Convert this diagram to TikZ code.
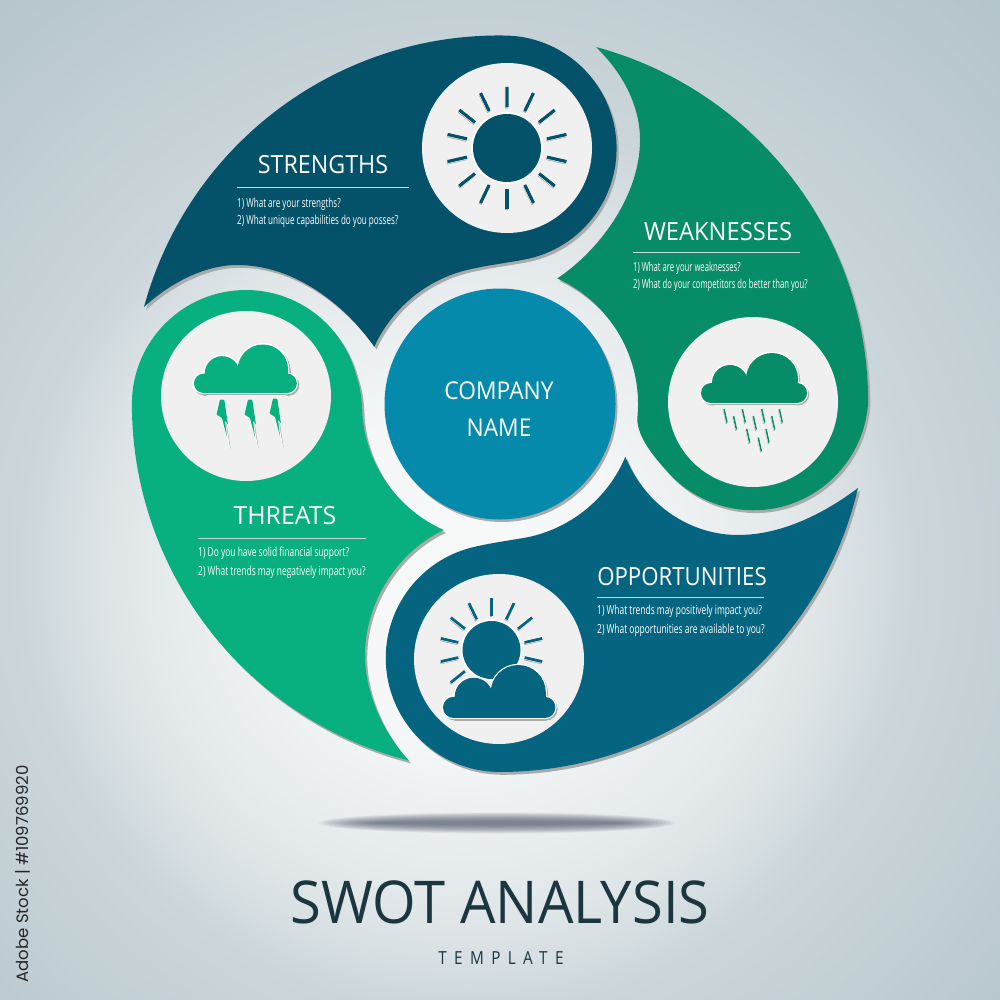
\documentclass[tikz,border=0pt]{standalone}
\usepackage{fontspec}
\setmainfont[FakeStretch=0.93]{Open Sans}
\newfontfamily\narrowfont[FakeStretch=0.66]{Open Sans}
\newfontfamily\titlefont[FakeStretch=0.95]{Open Sans}
\newfontfamily\spacedfont[FakeStretch=0.85,LetterSpace=41]{Open Sans}
\newfontfamily\stockfont{Poppins}
\definecolor{strengthblue}{HTML}{04516A}
\definecolor{weakgreen}{HTML}{068C66}
\definecolor{opportblue}{HTML}{05647F}
\definecolor{threatgreen}{HTML}{07B07E}
\definecolor{hubblue}{HTML}{068AAC}
\definecolor{plategray}{HTML}{F0F0F0}
\definecolor{edgegray}{HTML}{A9ABAB}
\definecolor{inkdark}{HTML}{1C3640}
\definecolor{rulegray}{HTML}{C9D8DA}
\definecolor{floorgray}{HTML}{4A5060}
\definecolor{bga}{HTML}{F8FAFA}
\definecolor{bgb}{HTML}{F4F6F7}
\definecolor{bgc}{HTML}{E0E6E8}
\definecolor{bgd}{HTML}{CBD6DA}
\definecolor{bge}{HTML}{B5C5CB}
\definecolor{bgf}{HTML}{A5B9C0}
\pgfdeclareradialshading{bgshade}{\pgfpoint{-2.1bp}{-4.2bp}}{%
	color(0bp)=(bga); color(8.5bp)=(bgb); color(17.5bp)=(bgc);
	color(22.5bp)=(bgd); color(37bp)=(bge); color(46bp)=(bgf); color(100bp)=(bgf)}
\tikzset{
	headtext/.style={text=white,inner sep=0pt,font=\fontsize{25}{28}\selectfont},
	bodytext/.style={text=white,inner sep=0pt,anchor=west,font=\narrowfont\fontsize{12.5}{14}\selectfont},
	headrule/.style={rulegray,line width=.9pt},
	iconplate/.style={circle,fill=plategray,minimum size=170pt,inner sep=0pt},
	hubdisc/.style={circle,fill=hubblue,minimum size=231pt,inner sep=0pt},
	cloudicon/.pic={
		\cloudbody{fill=edgegray,draw=edgegray,line width=1.6pt,shift={(1.4,1.6)}}
		\cloudbody{fill=white,draw=white,line width=2.4pt}
		\cloudbody{fill=#1}
	},
	bolticon/.pic={
		\fill[edgegray,shift={(.7,.5)}] (2,18.5)--(10,49)--(6,24)--cycle;
		\fill[white] (2,18.5)--(10,49)--(6,24)--cycle;
		\fill[white,line width=1pt,draw=white] (0,0)--(-3.5,15)--(2,18.5)--(7,38)--(5,21)--(8,25)--(4.3,0)--cycle;
		\fill[#1] (0,0)--(-3.5,15)--(2,18.5)--(7,38)--(5,21)--(8,25)--(4.3,0)--cycle;
	}
}
\newcommand{\cloudbody}[1]{
	\path[#1] (10,-10) circle[radius=10];
	\path[#1] (96,-10) circle[radius=10];
	\path[#1] (29,-20) circle[radius=18];
	\path[#1] (45,-24) arc[start angle=180,end angle=360,radius=26] -- (97,-5) -- (45,-5) -- cycle;
	\path[#1] (10,-20) rectangle (96,0);
}
% one stroke of a sun or of the rain, with its light and its dark edge
\newcommand{\raystroke}[4]{
	\draw[edgegray,line width=#4pt,shift={(-.5,1.3)}] #1--#2;
	\draw[white,line width=#4pt+1pt] #1--#2;
	\draw[#3,line width=#4pt] #1--#2;
}
\newcommand{\petal}[2]{
	\fill[edgegray,shift={(2.2,2.8)}] #2;
	\fill[#1] #2;
}
\begin{document}
\begin{tikzpicture}[x=1pt,y=-1pt,line join=round]
	\useasboundingbox (0,0) rectangle (1000,1000);
	\shade[shading=bgshade] (0,0) rectangle (1000,1000);
	% floor shadow
	\foreach \i in {0,...,13}
	\fill[floorgray,opacity=.07] (497,823) ellipse[x radius={178-\i*4.2},y radius={10.5-\i*.65}];
	% petals
	\petal{strengthblue}{(144,307) arc[start angle=195.2,end angle=271,radius=368]
		arc[start angle=271,end angle=440,radius=113]
		.. controls (500,264) and (482,266) .. (463,271)
		arc[start angle=254.5,end angle=204.5,radius=138]
		.. controls (345,305) and (295,265) .. (237,265)
		.. controls (205,265) and (170,283) .. (144,307) -- cycle}
	\petal{weakgreen}{(596,47) arc[start angle=285.1,end angle=360,radius=368]
		arc[start angle=3.5,end angle=140,radius=115]
		.. controls (646,448) and (636,431) .. (637.5,416)
		arc[start angle=5,end angle=-65.5,radius=138]
		.. controls (600,250) and (640,195) .. (640,140)
		.. controls (640,105) and (622,72) .. (596,47) -- cycle}
	\petal{opportblue}{(858,488) arc[start angle=13.2,end angle=90,radius=368]
		arc[start angle=90,end angle=255,radius=114]
		.. controls (490,543) and (512,540) .. (523.6,538)
		arc[start angle=80,end angle=22.8,radius=136]
		.. controls (645,505) and (690,535) .. (738,535)
		.. controls (780,535) and (822,515) .. (858,488) -- cycle}
	\petal{threatgreen}{(409,760.6) arc[start angle=104.3,end angle=180,radius=368]
		arc[start angle=180,end angle=345,radius=114]
		.. controls (361,390) and (362,400) .. (362.5,416)
		arc[start angle=175,end angle=114,radius=138]
		.. controls (400,550) and (365,600) .. (365,655)
		.. controls (365,695) and (385,735) .. (409,760.6) -- cycle}
	% middle disc
	\fill[edgegray] (502,406.5) circle[radius=115.5];
	\node[hubdisc] (hub) at (500,404) {};
	\node[headtext,font=\fontsize{24.5}{28}\selectfont] (hubtop) at (499,391) {COMPANY};
	\node[headtext,font=\fontsize{24.5}{28}\selectfont] (hubbottom) at (499,428) {NAME};
	% plates
	\node[iconplate] (strengthplate) at (507,148) {};
	\node[iconplate] (weakplate) at (753,402) {};
	\node[iconplate] (opportplate) at (499,659) {};
	\node[iconplate] (threatplate) at (246,396) {};
	% strengths sun
	\foreach \k in {0,...,13}
	\raystroke{([shift={(507,148)}]{90+\k*25.714}:41)}{([shift={(507,148)}]{90+\k*25.714}:61)}{strengthblue}{3.2}
	\fill[white] (507,148) circle[radius=35.5];
	\fill[strengthblue] (507,148) circle[radius=34];
	% opportunities sun and cloud
	\foreach \k in {-4,...,5}
	\raystroke{([shift={(491.5,650)}]{270-\k*25.714}:34)}{([shift={(491.5,650)}]{270-\k*25.714}:52)}{opportblue}{2.8}
	\fill[white] (491.5,650) circle[radius=30.5];
	\fill[opportblue] (491.5,650) circle[radius=29];
	\pic[scale=1.06] (opportcloud) at (443,718) {cloudicon=opportblue};
	% weaknesses cloud and rain
	\pic (weakcloud) at (701,403) {cloudicon=weakgreen};
	\foreach \x/\y in {724/409,733.5/416,742.3/409,753.3/416,761.7/409,771.7/416,779.3/409,746.7/429,766/429,758.3/437.5}
	\raystroke{(\x,\y)}{({\x+3},{\y+13.5})}{weakgreen}{1.5}
	% threats cloud and bolts
	\pic[scale=.97] (threatcloud) at (194,393) {cloudicon=threatgreen};
	\pic (boltone) at (220,399.5) {bolticon=threatgreen};
	\pic (bolttwo) at (248,399.5) {bolticon=threatgreen};
	\pic (boltthree) at (273,398.5) {bolticon=threatgreen};
	% labels
	\node[headtext] (strengthhead) at (323,165) {STRENGTHS};
	\draw[headrule] (237,187)--(409,187);
	\node[bodytext,xscale=.98] (strengthone) at (237,204.5) {1) What are your strengths?};
	\node[bodytext,xscale=.98] (strengthtwo) at (237,221) {2) What unique capabilities do you posses?};
	\node[headtext,xscale=1.02] (weakhead) at (718,232) {WEAKNESSES};
	\draw[headrule] (633,252.5)--(800,252.5);
	\node[bodytext,xscale=.93] (weakone) at (633,268) {1) What are your weaknesses?};
	\node[bodytext,xscale=.93] (weaktwo) at (633,285) {2) What do your competitors do better than you?};
	\node[headtext,xscale=.955] (opporthead) at (682,577) {OPPORTUNITIES};
	\draw[headrule] (597,597)--(764,597);
	\node[bodytext,xscale=1.02] (opportone) at (597,611) {1) What trends may positively impact you?};
	\node[bodytext,xscale=1.02] (opporttwo) at (597,630) {2) What opportunities are available to you?};
	\node[headtext,xscale=1.07] (threathead) at (285,516) {THREATS};
	\draw[headrule] (198,538)--(366,538);
	\node[bodytext,xscale=1.02] (threatone) at (198,553) {1) Do you have solid financial support?};
	\node[bodytext,xscale=1.02] (threattwo) at (198,572) {2) What trends may negatively impact you?};
	\node[text=inkdark,inner sep=0pt,font=\titlefont\fontsize{59}{64}\selectfont] (swottitle) at (500,902) {SWOT ANALYSIS};
	\node[text=inkdark,inner sep=0pt,font=\spacedfont\fontsize{18}{20}\selectfont] (swotsub) at (501,958) {TEMPLATE};
	\node[text=black!70!gray,inner sep=0pt,rotate=90,font=\stockfont\fontsize{16.5}{18}\selectfont] (stockmark) at (23,874) {Adobe Stock | \#109769920};
\end{tikzpicture}
\end{document}
